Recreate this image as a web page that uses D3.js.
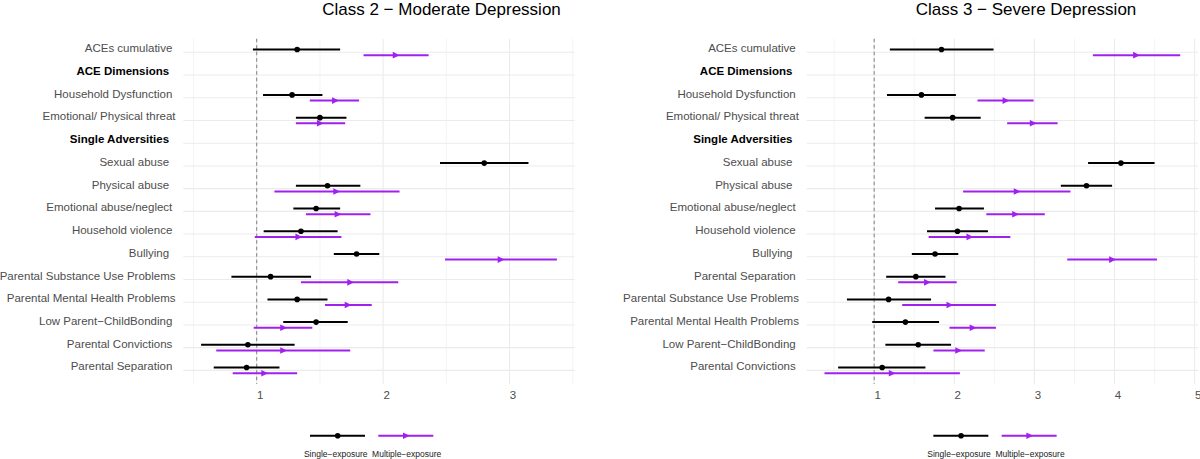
<!DOCTYPE html>
<html><head><meta charset="utf-8">
<script src="https://cdn.jsdelivr.net/npm/d3@7"></script>
<style>
body{margin:0;background:#fff}
svg{display:block;font-family:"Liberation Sans",Arial,Helvetica,sans-serif}
</style>
</head><body>
<svg id="chart" width="1200" height="459"></svg>
<script>
// ---------- DATA ----------
const titles = ["Class 2 \u2212 Moderate Depression", "Class 3 \u2212 Severe Depression"];
const headerRows = ["ACE Dimensions  ", "Single Adversities  "];
const seriesNames = ["Single\u2212exposure", "Multiple\u2212exposure"];

const categoriesClass2 = ["ACEs cumulative ","ACE Dimensions  ","Household Dysfunction ","Emotional/ Physical threat",
  "Single Adversities  ","Sexual abuse  ","Physical abuse  ","Emotional abuse/neglect ","Household violence ","Bullying  ",
  "Parental Substance Use Problems","Parental Mental Health Problems","Low Parent\u2212ChildBonding ",
  "Parental Convictions ","Parental Separation "];
const class2SingleEst = [1.32,null,1.28,1.50,null,2.80,1.56,1.47,1.35,1.79,1.11,1.32,1.47,0.93,0.92];
const class2SingleLo  = [0.97,null,1.05,1.31,null,2.45,1.31,1.29,1.055,1.61,0.80,1.085,1.21,0.56,0.66];
const class2SingleHi  = [1.66,null,1.52,1.71,null,3.15,1.82,1.66,1.64,1.97,1.43,1.56,1.72,1.30,1.18];
const class2MultiEst  = [2.10,null,1.62,1.50,null,null,1.63,1.64,1.33,2.93,1.74,1.72,1.21,1.21,1.06];
const class2MultiLo   = [1.845,null,1.42,1.31,null,null,1.14,1.39,0.985,2.49,1.35,1.54,0.976,0.68,0.81];
const class2MultiHi   = [2.36,null,1.81,1.70,null,null,2.13,1.90,1.67,3.375,2.12,1.91,1.44,1.74,1.32];
const class2Ticks = [1,2,3];

const categoriesClass3 = ["ACEs cumulative ","ACE Dimensions  ","Household Dysfunction ","Emotional/ Physical threat",
  "Single Adversities  ","Sexual abuse  ","Physical abuse  ","Emotional abuse/neglect ","Household violence ","Bullying  ",
  "Parental Separation ","Parental Substance Use Problems","Parental Mental Health Problems",
  "Low Parent\u2212ChildBonding ","Parental Convictions "];
const class3SingleEst = [1.84,null,1.59,1.98,null,4.08,3.65,2.06,2.04,1.76,1.52,1.18,1.39,1.55,1.10];
const class3SingleLo  = [1.196,null,1.16,1.63,null,3.67,3.33,1.76,1.66,1.47,1.15,0.66,0.976,1.14,0.55];
const class3SingleHi  = [2.49,null,2.02,2.33,null,4.50,3.97,2.37,2.42,2.05,1.89,1.71,1.81,1.96,1.64];
const class3MultiEst  = [4.27,null,2.64,2.98,null,null,2.78,2.76,2.19,3.97,1.66,1.94,2.23,2.05,1.22];
const class3MultiLo   = [3.73,null,2.29,2.66,null,null,2.11,2.40,1.68,3.41,1.30,1.35,1.94,1.74,0.38];
const class3MultiHi   = [4.82,null,2.99,3.29,null,null,3.45,3.13,2.70,4.53,2.03,2.52,2.52,2.38,2.07];
const class3Ticks = [1,2,3,4,5];

// ---------- LAYOUT ----------
const svg = d3.select("#chart");
const blackCol = "#000000", purpleCol = "#A020F0";
const panelTop = 38.7, panelBottom = 384;

function buildRows(cats, sE, sL, sH, mE, mL, mH) {
  return cats.map((c, i) => ({cat: c, sE: sE[i], sL: sL[i], sH: sH[i], mE: mE[i], mL: mL[i], mH: mH[i]}));
}

const panels = [
  {title: titles[0], titleX: 441.5, x0: 183.3, x1: 574.7, ticks: class2Ticks,
   rows: buildRows(categoriesClass2, class2SingleEst, class2SingleLo, class2SingleHi, class2MultiEst, class2MultiLo, class2MultiHi)},
  {title: titles[1], titleX: 1026, x0: 806.7, x1: 1198, ticks: class3Ticks,
   rows: buildRows(categoriesClass3, class3SingleEst, class3SingleLo, class3SingleHi, class3MultiEst, class3MultiLo, class3MultiHi)}
];

function arrowPath(cx, cy) {
  return `M${cx-3},${cy-3.3}L${cx+3.8},${cy}L${cx-3},${cy+3.3}Z`;
}

panels.forEach(p => {
  const vals = [];
  p.rows.forEach(r => { [r.sL, r.sH, r.mL, r.mH].forEach(v => { if (v != null) vals.push(v); }); });
  const ext = d3.extent(vals);
  const pad = (ext[1] - ext[0]) * 0.05;
  const x = d3.scaleLinear().domain([ext[0] - pad, ext[1] + pad]).range([p.x0, p.x1]);
  const y = d3.scalePoint().domain(p.rows.map(r => r.cat)).range([panelTop, panelBottom]).padding(0.6);
  const dodge = y.step() * 0.125;
  const g = svg.append("g");

  // minor vertical gridlines
  const minor = d3.range(Math.ceil(x.domain()[0] * 2) / 2, x.domain()[1], 0.5).filter(v => Math.abs(v - Math.round(v)) > 1e-6);
  g.selectAll(".minor").data(minor).join("line")
    .attr("x1", d => x(d)).attr("x2", d => x(d)).attr("y1", panelTop).attr("y2", panelBottom)
    .attr("stroke", "#EBEBEB").attr("stroke-width", 0.55);
  // major vertical gridlines
  g.selectAll(".major").data(p.ticks).join("line")
    .attr("x1", d => x(d)).attr("x2", d => x(d)).attr("y1", panelTop).attr("y2", panelBottom)
    .attr("stroke", "#EBEBEB").attr("stroke-width", 1.07);
  // horizontal gridlines
  g.selectAll(".hgrid").data(p.rows).join("line")
    .attr("x1", p.x0).attr("x2", p.x1).attr("y1", d => y(d.cat)).attr("y2", d => y(d.cat))
    .attr("stroke", "#EBEBEB").attr("stroke-width", 1.07);

  // reference line at 1
  g.append("line").attr("x1", x(1)).attr("x2", x(1)).attr("y1", panelTop).attr("y2", panelBottom)
    .attr("stroke", "#7F7F7F").attr("stroke-width", 1).attr("stroke-dasharray", "3.5,3");

  // x tick labels via axis
  const axis = d3.axisBottom(x).tickValues(p.ticks).tickFormat(d3.format("d")).tickSize(0).tickPadding(0);
  const ag = g.append("g").attr("transform", `translate(0,${panelBottom})`).call(axis);
  ag.select(".domain").remove();
  ag.selectAll("text").attr("dy", null).attr("y", 14.5).attr("dx", 3)
    .attr("fill", "#4D4D4D").style("font-size", "11.5px").style("font-family", '"Liberation Sans",Arial,sans-serif');

  // y labels
  g.selectAll(".ylab").data(p.rows).join("text")
    .attr("x", p.x0 - 7.8).attr("y", d => y(d.cat)).attr("text-anchor", "end")
    .style("font-size", "11.5px").style("white-space", "pre")
    .attr("font-weight", d => headerRows.includes(d.cat) ? "bold" : "normal")
    .attr("fill", d => headerRows.includes(d.cat) ? "#000" : "#4D4D4D")
    .text(d => d.cat);

  // single exposure
  const sRows = p.rows.filter(r => r.sE != null);
  g.selectAll(".sline").data(sRows).join("line")
    .attr("x1", d => x(d.sL)).attr("x2", d => x(d.sH))
    .attr("y1", d => y(d.cat) - dodge).attr("y2", d => y(d.cat) - dodge)
    .attr("stroke", blackCol).attr("stroke-width", 2);
  g.selectAll(".spt").data(sRows).join("circle")
    .attr("cx", d => x(d.sE)).attr("cy", d => y(d.cat) - dodge).attr("r", 2.8).attr("fill", blackCol);

  // multiple exposure
  const mRows = p.rows.filter(r => r.mE != null);
  g.selectAll(".mline").data(mRows).join("line")
    .attr("x1", d => x(d.mL)).attr("x2", d => x(d.mH))
    .attr("y1", d => y(d.cat) + dodge).attr("y2", d => y(d.cat) + dodge)
    .attr("stroke", purpleCol).attr("stroke-width", 2);
  g.selectAll(".mpt").data(mRows).join("path")
    .attr("d", d => arrowPath(x(d.mE), y(d.cat) + dodge)).attr("fill", purpleCol);

  // title
  svg.append("text").attr("x", p.titleX).attr("y", 15).attr("text-anchor", "middle")
    .style("font-size", "17px").attr("fill", "#000").text(p.title);

  // legend
  const cx = (p.x0 + p.x1) / 2;
  const lx = cx - 69, ly = 435.7;
  const lg = svg.append("g");
  lg.append("line").attr("x1", lx).attr("x2", lx + 55).attr("y1", ly).attr("y2", ly).attr("stroke", blackCol).attr("stroke-width", 2);
  lg.append("circle").attr("cx", lx + 27.7).attr("cy", ly).attr("r", 2.8).attr("fill", blackCol);
  lg.append("line").attr("x1", lx + 68.3).attr("x2", lx + 123.3).attr("y1", ly).attr("y2", ly).attr("stroke", purpleCol).attr("stroke-width", 2);
  lg.append("path").attr("d", arrowPath(lx + 96, ly)).attr("fill", purpleCol);
  lg.append("text").attr("x", lx + 25.7).attr("y", 457).attr("text-anchor", "middle")
    .style("font-size", "8.5px").attr("fill", "#1a1a1a").text(seriesNames[0]);
  lg.append("text").attr("x", lx + 96.7).attr("y", 457).attr("text-anchor", "middle")
    .style("font-size", "8.5px").attr("fill", "#1a1a1a").text(seriesNames[1]);
});
</script>
</body></html>
